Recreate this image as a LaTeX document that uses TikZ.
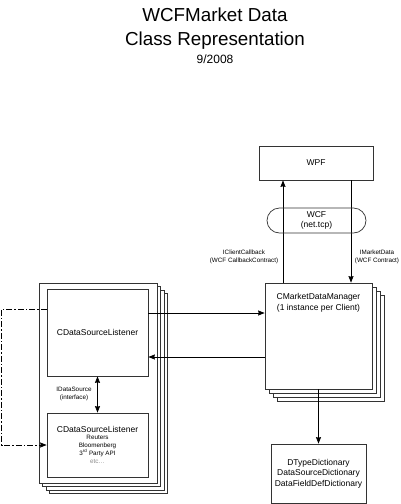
\documentclass[tikz,border=0pt]{standalone}
\usepackage{fontspec}
\setmainfont{Liberation Sans}
\usetikzlibrary{arrows.meta,shadows}

\begin{document}
\begin{tikzpicture}[x=1pt,y=-1pt,>={Stealth[length=6.5pt,width=5pt,inset=0.6pt]},line width=0.7pt,
    box/.style={draw=black!80,fill=white,inner sep=0pt,align=center,font=\fontsize{8.5}{10.5}\selectfont},
    lbl/.style={align=center,inner sep=0pt,font=\fontsize{6.3}{7.6}\selectfont},
    stackL/.style={copy shadow={shadow xshift=10.5pt,shadow yshift=-10.5pt,fill=white,draw=black!80},
                   copy shadow={shadow xshift=7pt,shadow yshift=-7pt,fill=white,draw=black!80},
                   copy shadow={shadow xshift=3.5pt,shadow yshift=-3.5pt,fill=white,draw=black!80}},
    stackM/.style={copy shadow={shadow xshift=12pt,shadow yshift=-12pt,fill=white,draw=black!80},
                   copy shadow={shadow xshift=8pt,shadow yshift=-8pt,fill=white,draw=black!80},
                   copy shadow={shadow xshift=4pt,shadow yshift=-4pt,fill=white,draw=black!80}}]
  \useasboundingbox (0,0) rectangle (400,504);

  % title
  \node[anchor=base,font=\fontsize{18.8}{22}\selectfont] (title) at (215,21) {WCFMarket Data};
  \node[anchor=base,font=\fontsize{18.8}{22}\selectfont] (subtitle) at (215,45) {Class Representation};
  \node[anchor=base,font=\fontsize{12}{14}\selectfont] (date) at (215,63) {9/2008};

  % client side
  \node[box,minimum width=114pt,minimum height=34pt] (wpf) at (316,163) {WPF};
  \node[box,stackM,minimum width=107pt,minimum height=106pt] (mgr) at (318.5,336) {};
  \node[box,draw=none,fill=none] (mgrtxt) at (318.5,303) {CMarketDataManager\\(1 instance per Client)};
  \node[box,minimum width=95pt,minimum height=59pt] (dict) at (318.5,473.5)
        {DTypeDictionary\\DataSourceDictionary\\DataFieldDefDictionary};

  % data sources
  \node[box,stackL,minimum width=118pt,minimum height=200pt] (pool) at (98,383) {};
  \node[box,minimum width=101pt,minimum height=87pt] (src) at (97.5,332.5) {CDataSourceListener};
  \node[box,minimum width=101pt,minimum height=64pt,font=\fontsize{6.3}{7.8}\selectfont] (feed) at (97.5,445)
        {{\fontsize{8.5}{10}\selectfont CDataSourceListener}\\[-1pt]Reuters\\Bloomenberg\\3\textsuperscript{rd} Party API\\[0.5pt]\textcolor{black!45}{etc\ldots}};
  \coordinate (edge) at (1.5,0);

  \draw[->] ([xshift=-35.5pt]mgr.north) -- ([xshift=-35.5pt]mgr.north |- wpf.south);
  \draw[->] ([xshift=32.5pt]mgr.north |- wpf.south) -- ([xshift=32.5pt]mgr.north);
  \node[draw=black!80,rounded corners=12.5pt,minimum width=99pt,minimum height=25pt,inner sep=0pt,
        align=center,font=\fontsize{8.5}{10.5}\selectfont] (wcf) at (316.5,220.5) {WCF\\(net.tcp)};
  \node[lbl] (cb) at (244,257) {IClientCallback\\(WCF CallbackContract)};
  \node[lbl] (md) at (377,257) {IMarketData\\(WCF Contract)};

  \draw[->] ([yshift=19.5pt]src.east) -- ([yshift=19.5pt]src.east -| mgr.west);
  \draw[->] ([yshift=-24.5pt]src.east -| mgr.west) -- ([yshift=-24.5pt]src.east);
  \draw[<->] (src) -- (feed);
  \node[lbl] (ids) at (74,394) {IDataSource\\(interface)};
  \draw[->] (mgr.south) -- (dict);
  \draw[->,dash pattern=on 6pt off 2pt on 1.5pt off 2pt] ([yshift=23.5pt]src.west) -| (edge |- feed.west) -- (feed.west);
\end{tikzpicture}
\end{document}
